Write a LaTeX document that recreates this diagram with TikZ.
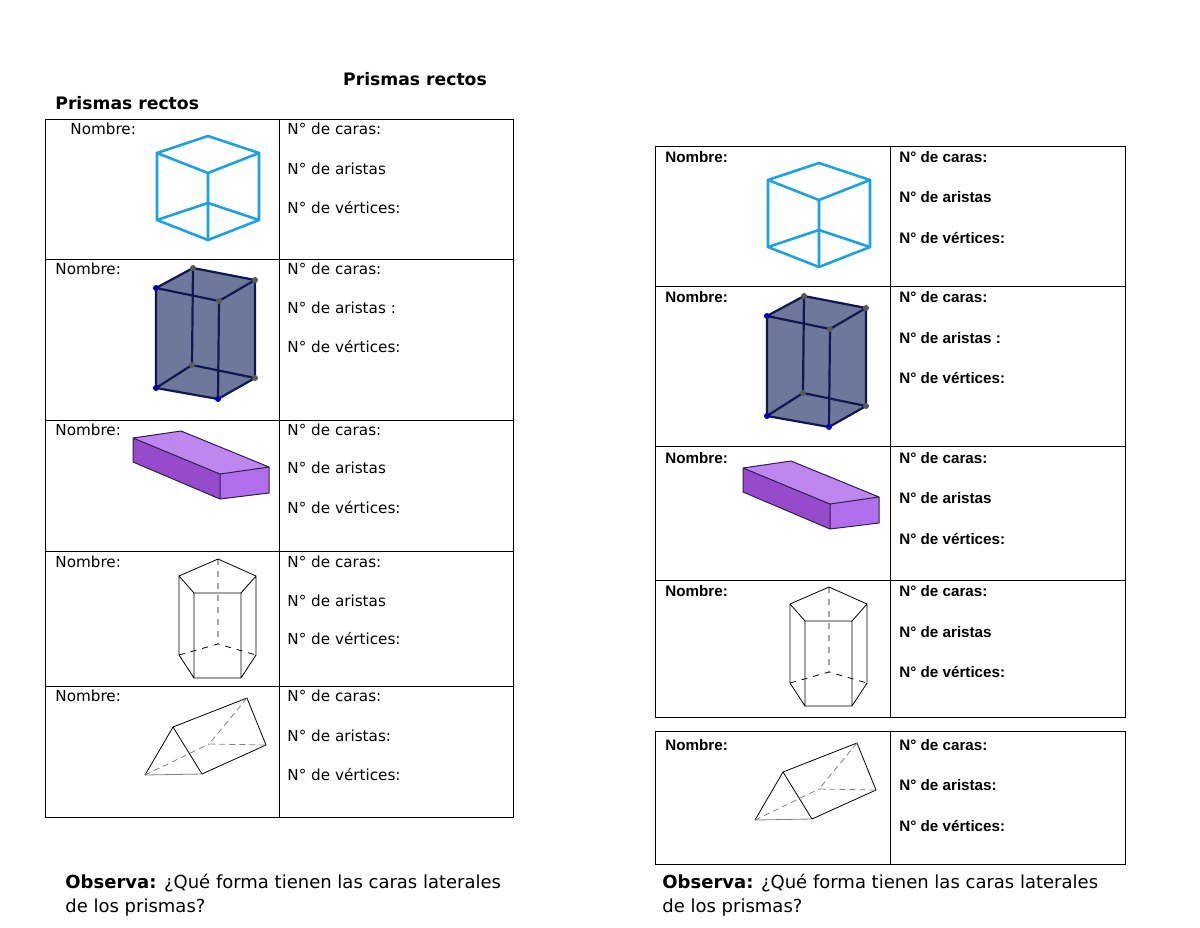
\documentclass[tikz,border=0pt]{standalone}
\usepackage{fontspec}
\setmainfont{DejaVu Sans}
\newfontfamily\arialf{Liberation Sans}
\begin{document}
\newcommand{\cubeshape}{%
  \draw[cubec] (157,153)--(208,136)--(259,153)--(259,220)--(208,240)--(157,220)--cycle;
  \draw[cubec] (157,153)--(208,173)--(259,153) (208,173)--(208,240) (157,220)--(208,203)--(259,220);}
\newcommand{\boxshape}{%
  \fill[bfill] (156,288)--(193,268)--(255,280)--(255,378)--(218,399)--(156,388)--cycle;
  \fill[bfill,opacity=.35] (193,268)--(193,365)--(255,378)--(255,280)--cycle;
  \draw[bedge] (156,288)--(193,268)--(255,280)--(219,301)--cycle (156,388)--(192,365)--(255,378)--(218,399)--cycle
   (156,288)--(156,388) (193,268)--(192,365) (255,280)--(255,378) (219,301)--(218,399);
  \foreach \p in {(156,288),(156,388),(218,399)} \fill[blue!70!black] \p circle (3);
  \foreach \p in {(193,268),(255,280),(219,301),(192,365),(255,378)} \fill[gray!70!black] \p circle (3);}
\newcommand{\purpleshape}{%
  \fill[pa] (133,438)--(220,474)--(220,499)--(133,462)--cycle;
  \fill[pb] (133,438)--(181,431)--(269,467)--(220,474)--cycle;
  \fill[pc] (220,474)--(269,467)--(269,493)--(220,499)--cycle;
  \draw[pedge] (133,438)--(181,431)--(269,467)--(269,493)--(220,499)--(133,462)--cycle (133,438)--(220,474)--(269,467) (220,474)--(220,499);}
\newcommand{\pentshape}{%
  \draw[thin] (179,576)--(218,559)--(256,576)--(241,593)--(194,593)--cycle
   (179,576)--(179,655)--(194,678)--(241,678)--(256,655)--(256,576) (194,593)--(194,678) (241,593)--(241,678);
  \draw[thin,dashed] (218,559)--(218,644) (179,655)--(218,644)--(256,655);}
\newcommand{\trishape}{%
  \draw[thin] (145,775)--(173,727)--(202,774) (173,727)--(247,698)--(266,745)--(202,774);
  \draw[thin,gray] (145,775)--(202,774);
  \draw[thin,gray,densely dashed] (247,698)--(209,744)--(266,745) (145,775)--(209,744);}
\begin{tikzpicture}[x=0.5pt,y=-0.5pt,
  cubec/.style={draw={rgb,255:red,30;green,160;blue,225},line width=1.3pt},
  bfill/.style={fill={rgb,255:red,110;green,120;blue,155}},
  bedge/.style={draw={rgb,255:red,15;green,25;blue,80},line width=1.1pt},
  pa/.style={fill={rgb,255:red,150;green,75;blue,205}},
  pb/.style={fill={rgb,255:red,190;green,135;blue,240}},
  pc/.style={fill={rgb,255:red,175;green,110;blue,235}},
  pedge/.style={draw={rgb,255:red,50;green,30;blue,70},line width=0.5pt},
  tl/.style={anchor=base west,inner sep=0,font=\fontsize{7.6}{9}\selectfont},
  tr/.style={anchor=base west,inner sep=0,font=\arialf\bfseries\fontsize{7.6}{9}\selectfont},
  ob/.style={anchor=base west,inner sep=0,font=\fontsize{9}{10}\selectfont},
  grid/.style={line width=0.5pt}]
\useasboundingbox (0,0) rectangle (1200,927);
% Titles
\node[anchor=base,inner sep=0,font=\bfseries\fontsize{8.6}{10}\selectfont] (t1) at (415,85) {Prismas rectos};
\node[anchor=base west,inner sep=0,font=\bfseries\fontsize{8.6}{10}\selectfont] (t2) at (55,109) {Prismas rectos};
% Left table
\draw[grid] (45,119) rectangle (513,817);
\draw[grid] (279,119)--(279,817);
\foreach \y in {259,420,551,686} \draw[grid] (45,\y)--(513,\y);
\node[tl] (ln1) at (70,134) {Nombre:};
\foreach \y/\n in {274/2,435/3,567/4,701/5} \node[tl] (ln\n) at (55,\y) {Nombre:};
\node[tl] (lc1) at (287,134) {N° de caras:};
\node[tl] (la1) at (287,174) {N° de aristas};
\node[tl] (lv1) at (287,213) {N° de vértices:};
\node[tl] (lc2) at (287,274) {N° de caras:};
\node[tl] (la2) at (287,313) {N° de aristas :};
\node[tl] (lv2) at (287,352) {N° de vértices:};
\node[tl] (lc3) at (287,435) {N° de caras:};
\node[tl] (la3) at (287,473) {N° de aristas};
\node[tl] (lv3) at (287,513) {N° de vértices:};
\node[tl] (lc4) at (287,567) {N° de caras:};
\node[tl] (la4) at (287,606) {N° de aristas};
\node[tl] (lv4) at (287,644) {N° de vértices:};
\node[tl] (lc5) at (287,701) {N° de caras:};
\node[tl] (la5) at (287,741) {N° de aristas:};
\node[tl] (lv5) at (287,780) {N° de vértices:};
\cubeshape \boxshape \purpleshape \pentshape \trishape
% Right tables
\draw[grid] (655,146) rectangle (1125,717);
\draw[grid] (890,146)--(890,717);
\foreach \y in {286,446,580} \draw[grid] (655,\y)--(1125,\y);
\draw[grid] (655,731) rectangle (1125,864);
\draw[grid] (890,731)--(890,864);
\foreach \y/\n in {162/1,302/2,463/3,596/4,750/5} \node[tr] (rn\n) at (665,\y) {Nombre:};
\node[tr] (rc1) at (899,162) {N° de caras:};
\node[tr] (ra1) at (899,202) {N° de aristas};
\node[tr] (rv1) at (899,243) {N° de vértices:};
\node[tr] (rc2) at (899,302) {N° de caras:};
\node[tr] (ra2) at (899,343) {N° de aristas :};
\node[tr] (rv2) at (899,383) {N° de vértices:};
\node[tr] (rc3) at (899,463) {N° de caras:};
\node[tr] (ra3) at (899,503) {N° de aristas};
\node[tr] (rv3) at (899,544) {N° de vértices:};
\node[tr] (rc4) at (899,596) {N° de caras:};
\node[tr] (ra4) at (899,637) {N° de aristas};
\node[tr] (rv4) at (899,677) {N° de vértices:};
\node[tr] (rc5) at (899,750) {N° de caras:};
\node[tr] (ra5) at (899,790) {N° de aristas:};
\node[tr] (rv5) at (899,831) {N° de vértices:};
\begin{scope}[shift={(611,27)}]\cubeshape\end{scope}
\begin{scope}[shift={(611,28)}]\boxshape\end{scope}
\begin{scope}[shift={(610,30)}]\purpleshape\end{scope}
\begin{scope}[shift={(611,28)}]\pentshape\end{scope}
\begin{scope}[shift={(610,45)}]\trishape\end{scope}
% Observa
\node[ob] (o1) at (65,888) {\textbf{Observa:} ¿Qué forma tienen las caras laterales};
\node[ob] (o2) at (65,912) {de los prismas?};
\node[ob] (o3) at (662,888) {\textbf{Observa:} ¿Qué forma tienen las caras laterales};
\node[ob] (o4) at (662,912) {de los prismas?};
\end{tikzpicture}
\end{document}
